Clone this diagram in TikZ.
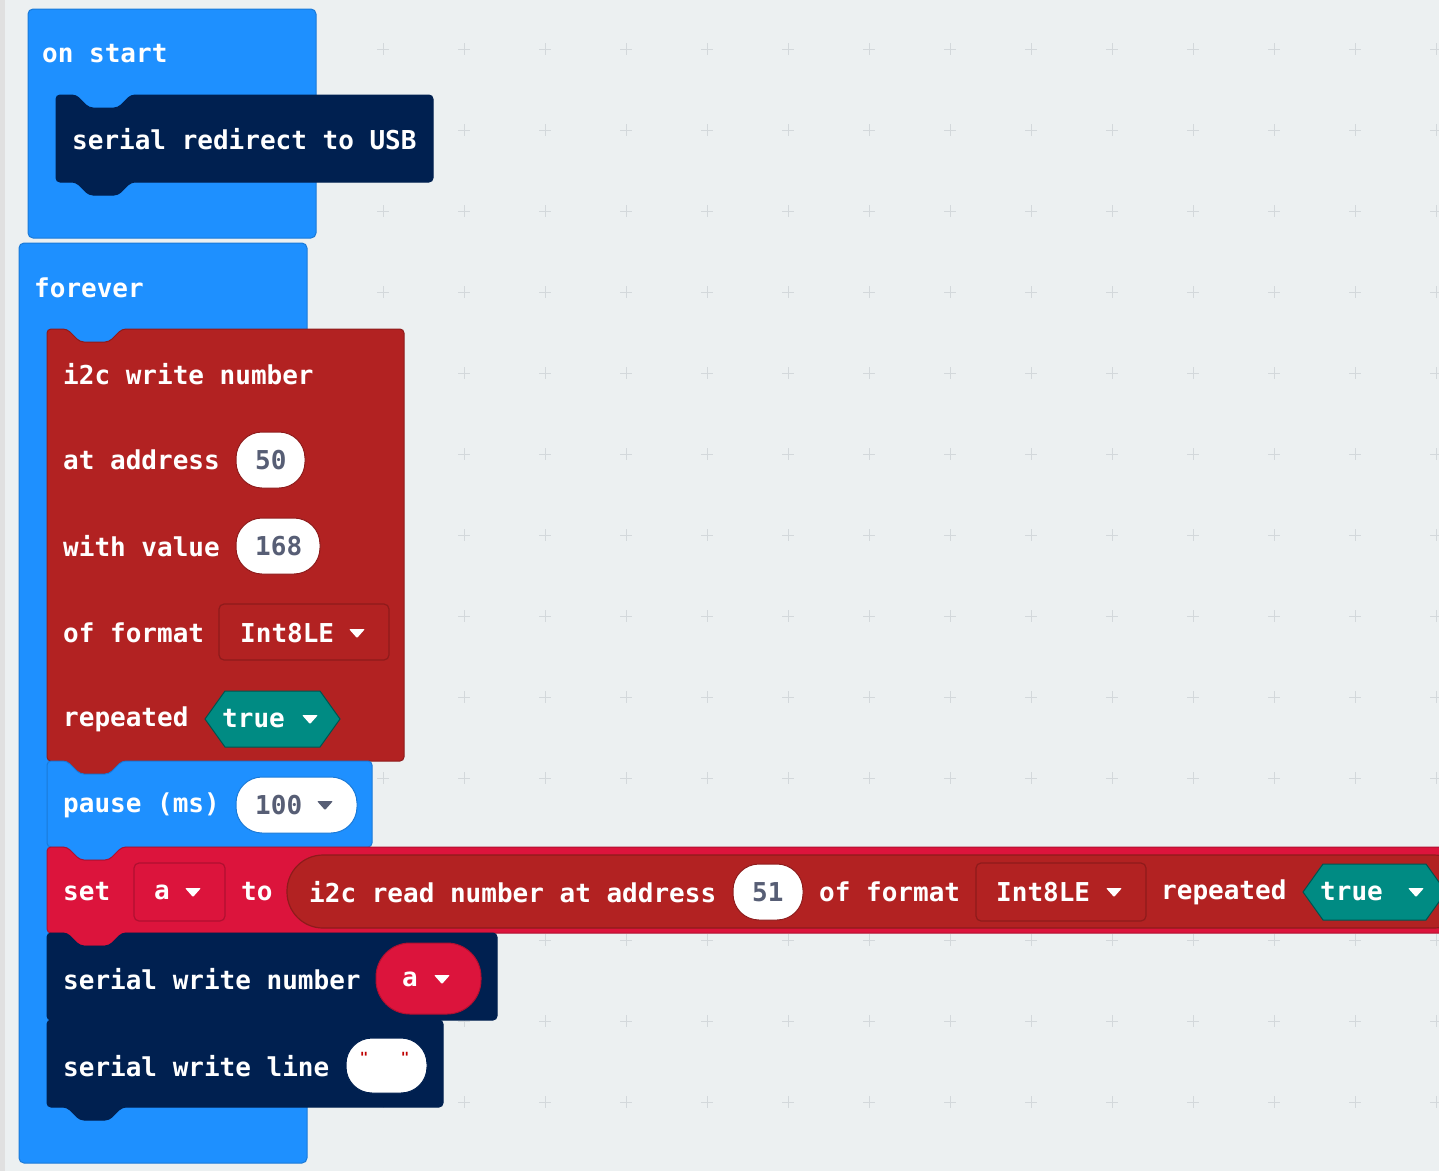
\documentclass[tikz,border=0pt]{standalone}
\usepackage{fontspec}
\setmonofont{DejaVu Sans Mono}
\definecolor{bg}{HTML}{ECF0F1}
\definecolor{mblue}{HTML}{1E90FF}
\definecolor{mblueD}{HTML}{1A7AD8}
\definecolor{navy}{HTML}{002050}
\definecolor{firebr}{HTML}{B22222}
\definecolor{firebrD}{HTML}{8E1B1B}
\definecolor{crim}{HTML}{DC143C}
\definecolor{crimD}{HTML}{B01030}
\definecolor{tealc}{HTML}{008B83}
\definecolor{greytx}{HTML}{575E75}
\definecolor{gridc}{HTML}{D3D8DB}
\newcommand\stmtblock[6]{% x y w h fill draw
  \fill[#5,draw=#6,line width=1pt,rounded corners=4pt]
  (#1,#2) -- (#1+20,#2) -- (#1+33,#2+13) -- (#1+62,#2+13) -- (#1+75,#2)
  -- (#1+#3,#2) -- (#1+#3,#2+#4) -- (#1+75,#2+#4) -- (#1+62,#2+#4+13)
  -- (#1+33,#2+#4+13) -- (#1+20,#2+#4) -- (#1,#2+#4) -- cycle;}
\newcommand\ddarrow[3]{\fill[#3,rounded corners=1pt] (#1-8,#2-4) -- (#1+8,#2-4) -- (#1,#2+5) -- cycle;}
\newcommand\hexbool[4]{% x1 x2 cy name
  \fill[tealc,draw=black!40!tealc,line width=1pt] (#1,#3) -- (#1+20,#3-28) -- (#2-20,#3-28) -- (#2,#3) -- (#2-20,#3+28) -- (#1+20,#3+28) -- cycle;
  \node[txt] (#4) at (#1+17,#3) {true};
  \ddarrow{#2-30}{#3}{white}}
\begin{document}
\begin{tikzpicture}[x=1pt,y=-1pt,
  txt/.style={anchor=west,inner sep=0pt,text=white,font=\fontsize{26}{30}\selectfont\ttfamily\bfseries},
  gtxt/.style={txt,text=greytx},
  pill/.style={fill=white,draw=#1,line width=1pt,rounded corners=26pt},
  ddbox/.style={draw=#1,line width=1.2pt,rounded corners=5pt}]
\useasboundingbox (0,0) rectangle (1439,1171);
\fill[bg] (0,0) rectangle (1439,1171);
\fill[black!12] (0,0) rectangle (5,1171);
% grid
\foreach \gx in {383,464,...,1440}{\foreach \gy in {49,130,...,1171}{
  \draw[gridc,line width=1pt] (\gx-6,\gy) -- (\gx+6,\gy) (\gx,\gy-6) -- (\gx,\gy+6);}}
% on start
\fill[mblue,draw=mblueD,line width=1pt,rounded corners=5pt] (28,9) rectangle (316,238);
\node[txt] (onstart) at (42,54) {on start};
\stmtblock{56}{95}{377}{87}{navy}{navy}
\node[txt] (redir) at (72,139) {serial redirect to USB};
% forever
\fill[mblue,draw=mblueD,line width=1pt,rounded corners=5pt] (19,243) rectangle (307,1163);
\node[txt] (forever) at (34,288) {forever};
% i2c write
\stmtblock{47}{329}{357}{432}{firebr}{firebrD}
\node[txt] (w1) at (63,374) {i2c write number};
\node[txt] (w2) at (63,460) {at address};
\fill[pill=firebrD] (236,432) rectangle (305,488);
\node[gtxt] (v50) at (255,460) {50};
\node[txt] (w3) at (63,546) {with value};
\fill[pill=firebrD] (236,518) rectangle (320,574);
\node[gtxt] (v168) at (255,546) {168};
\node[txt] (w4) at (63,633) {of format};
\draw[ddbox=firebrD] (219,604) rectangle (389,660);
\node[txt] (fmt1) at (240,633) {Int8LE};
\ddarrow{357}{633}{white}
\node[txt] (w5) at (63,719) {repeated};
\hexbool{205}{340}{719}{true1}
% pause
\stmtblock{47}{761}{325}{86}{mblue}{mblueD}
\node[txt] (pause) at (63,805) {pause (ms)};
\fill[pill=mblueD] (236,777) rectangle (357,833);
\node[gtxt] (v100) at (255,805) {100};
\ddarrow{325}{805}{greytx}
% set
\stmtblock{47}{847}{1400}{86}{crim}{crimD}
\node[txt] (set) at (63,892) {set};
\draw[ddbox=crimD] (134,863) rectangle (225,921);
\node[txt] (va) at (154,892) {a};
\ddarrow{193}{892}{white}
\node[txt] (to) at (241,892) {to};
\fill[firebr,draw=firebrD,line width=1.2pt,rounded corners=36pt] (287,855) rectangle (1470,928);
\node[txt] (rd) at (309,892) {i2c read number at address};
\fill[pill=firebrD] (733,864) rectangle (803,920);
\node[gtxt] (v51) at (752,892) {51};
\node[txt] (of2) at (819,892) {of format};
\draw[ddbox=firebrD] (976,863) rectangle (1146,921);
\node[txt] (fmt2) at (996,892) {Int8LE};
\ddarrow{1114}{892}{white}
\node[txt] (rep2) at (1161,892) {repeated};
\hexbool{1303}{1446}{892}{true2}
% serial write number
\stmtblock{47}{933}{450}{87}{navy}{navy}
\node[txt] (swn) at (63,979) {serial write number};
\fill[crim,draw=crimD,line width=1pt,rounded corners=34pt] (376,943) rectangle (481,1014);
\node[txt] (va2) at (402,979) {a};
\ddarrow{442}{979}{white}
% serial write line
\stmtblock{47}{1020}{396}{87}{navy}{navy}
\node[txt] (swl) at (63,1066) {serial write line};
\fill[pill=navy] (346,1038) rectangle (427,1093);
\node[text=red!75!black,font=\fontsize{14}{16}\selectfont\ttfamily\bfseries,inner sep=0pt] (q1) at (364,1057) {"};
\node[text=red!75!black,font=\fontsize{14}{16}\selectfont\ttfamily\bfseries,inner sep=0pt] (q2) at (405,1057) {"};
\end{tikzpicture}
\end{document}
